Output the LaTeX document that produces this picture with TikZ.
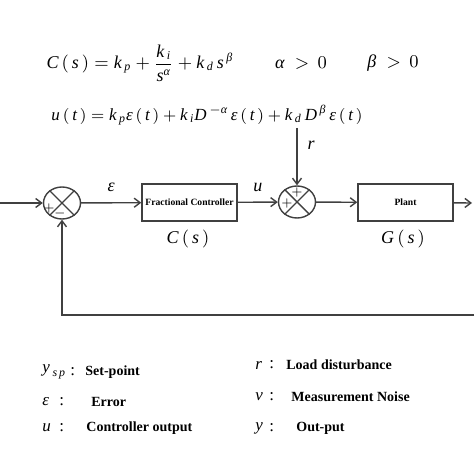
\documentclass[tikz,border=0pt]{standalone}
\usepackage{amsmath}
\usepackage{fontspec}
\setmainfont{Liberation Serif}
\usepackage{tikz}
\usetikzlibrary{shapes.geometric,arrows.meta,positioning,calc}
\newcommand{\mi}[1]{\text{\itshape #1}}
\tikzset{
  bloc/.style={draw=black!75,line width=0.7pt,minimum width=47.5pt,minimum height=18.5pt,inner sep=0,
               font=\bfseries\fontsize{4.8}{5}\selectfont},
  somme/.style={draw=black!75,line width=0.7pt,ellipse,minimum width=18.5pt,minimum height=16pt,inner sep=0},
  fleche/.style={draw=black!75,line width=0.7pt,-{Straight Barb[length=3pt,width=4.5pt]}},
  ligne/.style={draw=black!75,line width=0.7pt},
  formule/.style={inner sep=0,font=\fontsize{9}{10}\selectfont},
  signe/.style={inner sep=0,font=\fontsize{6.5}{7}\selectfont},
  legende/.style={anchor=west,inner sep=0,font=\bfseries\fontsize{7}{8}\selectfont},
  symb/.style={anchor=west,inner sep=0,font=\fontsize{8.5}{9}\selectfont}
}
\newcommand{\croix}[1]{\draw[ligne](#1.135)--(#1.-45) (#1.45)--(#1.-135);}

\begin{document}
\begin{tikzpicture}[x=0.5pt,y=-0.5pt]
\useasboundingbox (0,0) rectangle (474,474);
% formules
\node[formule](Cs) at (140,63){$\mi{C}\,(\,\mi{s}\,) = \mi{k}_{\,\mi{p}} + \dfrac{\mi{k}_{\,\mi{i}}}{\mi{s}^{\mi{α}}} + \mi{k}_{\,\mi{d}}\,\mi{s}^{\,\mi{β}}$};
\node[formule](alpha) at (301,63){$\mi{α}\;>\,0$};
\node[formule](beta) at (393,63){$\mi{β}\;>\,0$};
\node[formule,font=\fontsize{8.5}{10}\selectfont](ut) at (207,115){$\mi{u}\,(\,\mi{t}\,) = \mi{k}_{\,\mi{p}}\mi{ε}\,(\,\mi{t}\,) + \mi{k}_{\,\mi{i}}\mi{D}^{\,-\mi{α}}\,\mi{ε}\,(\,\mi{t}\,) + \mi{k}_{\,\mi{d}}\,\mi{D}^{\,\mi{β}}\,\mi{ε}\,(\,\mi{t}\,)$};

% blocs
\coordinate (in) at (0,203);
\node[somme](S1) at (62,203){};
\node[bloc](ctrl) at (189.5,202.5){Fractional Controller};
\node[somme](S2) at (297,202){};
\node[bloc](plant) at (405.5,202.5){Plant};
\coordinate (out) at (472,203);
\coordinate (rin) at (297,128);
\coordinate (fb) at (474,315);
\croix{S1}
\croix{S2}
\node[signe] at ($(S1)+(-13,6)$){$+$};
\node[signe] at ($(S1)+(-2,11)$){$-$};
\node[signe] at ($(S2)+(0,-9)$){$+$};
\node[signe] at ($(S2)+(-10,2)$){$+$};

% liaisons
\draw[fleche](in)--(S1);
\draw[fleche](S1)--(ctrl) node[formule,midway,above=5pt]{$\mi{ε}$};
\draw[fleche](ctrl)--(S2) node[formule,midway,above=5pt]{$\mi{u}$};
\draw[fleche](rin)--(S2) node[formule,pos=0.3,right=5pt]{$\mi{r}$};
\draw[fleche](S2)--(plant);
\draw[fleche](plant)--(out);
\draw[fleche](fb)-|(S1);
\node[formule](Clab) at (188,239){$\mi{C}\,(\,\mi{s}\,)$};
\node[formule](Glab) at (403,239){$\mi{G}\,(\,\mi{s}\,)$};

% legende
\foreach \sx/\yy/\sy/\cx/\tx/\tt [count=\i] in {
  42/372/{$\mi{y}_{\,\mi{s\,p}}$}/70/85/Set-point,
  42/402/{$\mi{ε}$}/59/91/Error,
  42/428/{$\mi{u}$}/59/86/Controller output,
  255/365/{$\mi{r}$}/269/286/Load disturbance,
  255/397/{$\mi{v}$}/269/291/Measurement Noise,
  255/428/{$\mi{y}$}/269/296/Out-put}{
  \node[symb](sym\i) at (\sx,\yy){\sy};
  \node[symb](col\i) at (\cx,\yy){:};
  \node[legende](txt\i) at (\tx,\yy){\tt};
}
\end{tikzpicture}
\end{document}
